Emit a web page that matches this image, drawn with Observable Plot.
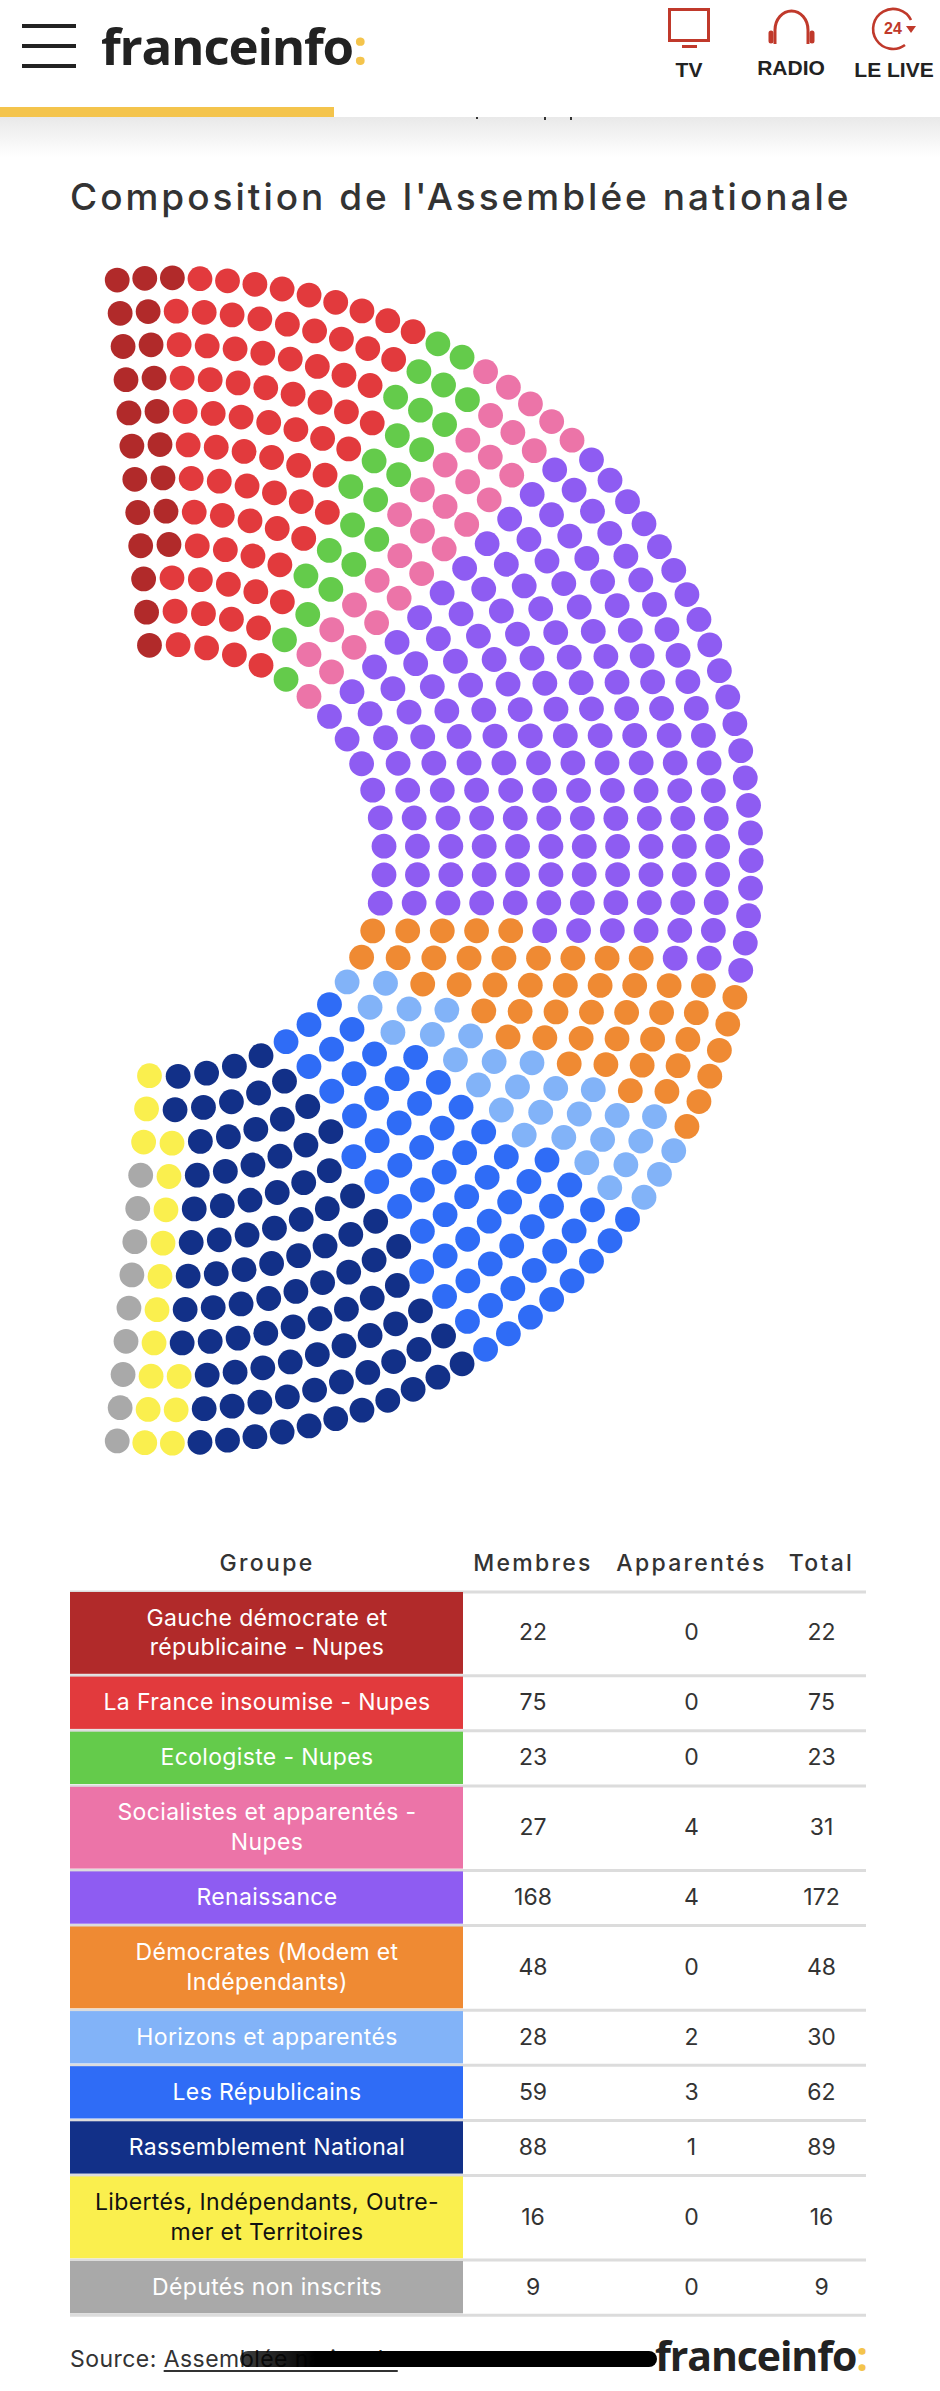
<!DOCTYPE html>
<html lang="fr"><head><meta charset="utf-8">
<script src="https://cdn.jsdelivr.net/npm/d3@7"></script>
<script src="https://cdn.jsdelivr.net/npm/@observablehq/plot@0.6"></script>
<style>
html,body{margin:0;padding:0;background:#fff}
#page{position:relative;width:940px;height:2391px;overflow:hidden;background:#fff;font-family:Inter,sans-serif}
#page>*{position:absolute}
#shadow{left:0;top:117px;width:940px;height:40px;background:linear-gradient(#e9e9e9,#fff)}
#bar{left:0;top:107px;width:334px;height:10px;background:#f4c44c}
.logo{font-family:"Open Sans",Lato,sans-serif;font-weight:700;color:#222;line-height:1;white-space:nowrap}
.logo b{color:#f4c44c;font-weight:700}
.nav{font-family:"Liberation Sans",sans-serif;font-weight:700;font-size:21px;color:#222;transform:translateX(-50%);white-space:nowrap;line-height:1}
#title{left:70px;top:172px;font-size:37px;line-height:50px;color:#333;letter-spacing:3px;white-space:nowrap;font-weight:500}
#source{left:70px;top:2345px;font-size:23px;line-height:28px;color:#333;white-space:nowrap;letter-spacing:.45px}
#source u{text-underline-offset:3px}
#redact{left:240px;top:2351px;width:417px;height:16px;border-radius:8px;background:linear-gradient(90deg,rgba(0,0,0,.75),#000 18%)}
.hdr text{letter-spacing:2.3px}
.cells text{letter-spacing:.35px}
</style></head><body>
<div id="page">
  <div id="shadow"></div>
  <div id="bar"></div>
  <svg style="left:0;top:0" width="940" height="120">
    <g fill="#222"><rect x="22" y="24" width="54" height="4"/><rect x="22" y="44" width="54" height="4"/><rect x="22" y="64" width="54" height="4"/></g>
    <g fill="none" stroke="#c0392b">
      <rect x="669.5" y="9.5" width="39" height="31" stroke-width="3"/>
      <path d="M682 46.5h15" stroke-width="3"/>
      <path d="M775 44V30a16.5 19 0 0 1 33 0V44" stroke-width="3"/>
      <path d="M771 33v8M812 33v8" stroke-width="5" stroke-linecap="round"/>
      <path d="M911 20A20 20 0 1 0 905 45" stroke-width="2.6"/>
    </g>
    <path d="M906 26h10l-5 7z" fill="#c0392b"/>
    <text x="893" y="34" text-anchor="middle" font-family="Liberation Sans" font-weight="700" font-size="16" fill="#c0392b">24</text>
    <g fill="#333"><rect x="476" y="117" width="2" height="2"/><rect x="544" y="117" width="2" height="3"/><rect x="570" y="117" width="2" height="3"/></g>
  </svg>
  <div class="logo" id="logoTop" style="left:101px;top:20px;font-size:51px;letter-spacing:-1.2px">franceinfo<b>:</b></div>
  <div class="nav" style="left:689px;top:59px">TV</div>
  <div class="nav" style="left:791px;top:57px">RADIO</div>
  <div class="nav" style="left:894px;top:59px">LE LIVE</div>
  <div id="title">Composition de l'Assemblée nationale</div>
  <div id="source">Source: <u>Assemblée nationale</u></div>
  <div id="redact"></div>
  <div class="logo" id="logoBot" style="left:655px;top:2335px;font-size:41px;letter-spacing:-1.1px">franceinfo<b>:</b></div>
</div>
<script>
// Table data
const groups = ["Gauche démocrate et\nrépublicaine - Nupes","La France insoumise - Nupes","Ecologiste - Nupes","Socialistes et apparentés -\nNupes","Renaissance","Démocrates (Modem et\nIndépendants)","Horizons et apparentés","Les Républicains","Rassemblement National","Libertés, Indépendants, Outre-\nmer et Territoires","Députés non inscrits"];
const membres = [22,75,23,27,168,48,28,59,88,16,9];
const apparentes = [0,0,0,4,4,0,2,3,1,0,0];
const totals = [22,75,23,31,172,48,30,62,89,16,9];
const colors = ["#b12a2a","#e23a3d","#64cb4b","#ec74a8","#8e5cf2","#ef8a33","#82b3f8","#2f6cf6","#123088","#faef4e","#a9a9a9"];
const labelInk = ["#fff","#fff","#fff","#fff","#fff","#fff","#fff","#fff","#fff","#111","#fff"];
const headers = ["Groupe","Membres","Apparentés","Total"];
// Seats in each concentric row, inner row first
const rowSeats = [26,30,34,38,42,46,50,54,58,62,66,71];

const colorScale = {domain: groups, range: colors};

// Hemicycle: seats ordered by angle, handed out group by group
const innerRow = 6.48, sweep = 190.1;
const seats = rowSeats.flatMap((n,row)=>d3.range(n).map(j=>({row, t:j/(n-1)})))
  .sort((a,b)=>d3.ascending(a.t,b.t)||d3.ascending(a.row,b.row));
let k = 0;
groups.forEach((g,i)=>{ for(let c=0;c<totals[i];c++) seats[k++].group = g; });
const seatAngle = d => (sweep/2 - d.t*sweep)*Math.PI/180;

const hemicycle = Plot.plot({
  width:940, height:1240, margin:0,
  x:{domain:[-5.04,23.16], range:[0,940], axis:null},
  y:{domain:[18.6,-18.6], range:[0,1240], axis:null},
  color:colorScale,
  marks:[
    Plot.dot(seats,{
      x:d=>(innerRow+d.row)*Math.cos(seatAngle(d)),
      y:d=>(innerRow+d.row)*Math.sin(seatAngle(d)),
      r:12.4, fill:"group"
    })
  ]
});
hemicycle.style.cssText="left:0;top:240px;background:transparent";
document.getElementById("page").appendChild(hemicycle);

// Table rows: height follows the number of text lines
const rowY = [];
let cursor = 1592;
groups.forEach((g,i)=>{
  const h = g.includes("\n") ? 84.6 : 55.1;
  rowY.push({i, group:g, y1:cursor, y2:cursor+h-2.8, rule:cursor+h-1.4, mid:cursor+(h-2.8)/2});
  cursor += h;
});
const colX = [266.5,532.5,691,821];
const textFont = "Inter, sans-serif";
const table = Plot.plot({
  width:940, height:800, margin:0,
  x:{domain:[0,940], range:[0,940], axis:null},
  y:{domain:[1530,2330], range:[0,800], axis:null},
  color:colorScale,
  marks:[
    Plot.ruleY(rowY.map(r=>r.y1).slice(0,1).map(v=>v-0.5).concat(rowY.map(r=>r.rule)),{y:d=>d,x1:70,x2:866,stroke:"#dcdcdc",strokeWidth:3}),
    Plot.rectY(rowY,{x1:70,x2:463,y1:"y1",y2:"y2",fill:"group"}),
    Plot.text(headers,{x:(d,i)=>colX[i],y:1563,text:d=>d,fontSize:23,fontWeight:500,fill:"#333",fontFamily:textFont,className:"hdr"}),
    Plot.text(rowY,{x:266.5,y:"mid",dy:-2.5,text:"group",fontSize:23,lineHeight:1.29,lineAnchor:"middle",fill:d=>labelInk[d.i],fontFamily:textFont,className:"cells"}),
    Plot.text(rowY,{x:colX[1],y:"mid",dy:-0.5,text:d=>String(membres[d.i]),fontSize:23,fill:"#333",fontFamily:textFont}),
    Plot.text(rowY,{x:colX[2],y:"mid",dy:-0.5,text:d=>String(apparentes[d.i]),fontSize:23,fill:"#333",fontFamily:textFont}),
    Plot.text(rowY,{x:colX[3],y:"mid",dy:-0.5,text:d=>String(totals[d.i]),fontSize:23,fill:"#333",fontFamily:textFont})
  ]
});
table.style.cssText="left:0;top:1530px;background:transparent";
document.getElementById("page").appendChild(table);
</script>
</body></html>
